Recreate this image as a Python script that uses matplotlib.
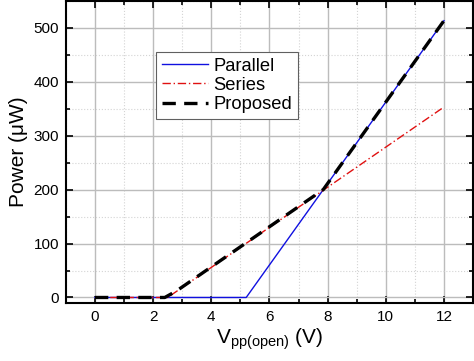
import numpy as np
import matplotlib
matplotlib.use("Agg")
import matplotlib.pyplot as plt
from matplotlib.ticker import MultipleLocator

plt.rcParams["font.family"] = ["Liberation Sans", "DejaVu Sans"]
plt.rcParams["mathtext.fontset"] = "custom"
plt.rcParams["mathtext.rm"] = "Liberation Sans"
plt.rcParams["mathtext.it"] = "Liberation Sans"

# Data
parallel_v = [0, 5.2, 12]
parallel_p = [0, 0, 513]
series_v = [0, 2.5, 12]
series_p = [0, 0, 353]
proposed_v = [0, 2.4, 2.8, 7.85, 12]
proposed_p = [0, 0, 12, 200, 513]

fig = plt.figure(figsize=(4.74, 3.61), dpi=100)
ax = fig.add_axes([0.139, 0.161, 0.859, 0.837])

ax.plot(parallel_v, parallel_p, color="#1010e0", lw=1.0, label="Parallel", zorder=3)
ax.plot(series_v, series_p, color="#e01010", lw=1.0, ls=(0, (6, 2, 1, 2)), label="Series", zorder=4)
ax.plot(proposed_v, proposed_p, color="black", lw=2.4, ls=(0, (4, 2.5)), label="Proposed", zorder=5)

ax.set_xlim(-1, 13)
ax.set_ylim(-10, 550)
ax.xaxis.set_major_locator(MultipleLocator(2))
ax.xaxis.set_minor_locator(MultipleLocator(1))
ax.yaxis.set_major_locator(MultipleLocator(100))
ax.yaxis.set_minor_locator(MultipleLocator(50))

ax.grid(which="major", color="#bcbcbc", lw=1.0, ls="-")
ax.grid(which="minor", color="#d4d4d4", lw=0.8, ls=":")
ax.set_axisbelow(True)

for s in ax.spines.values():
    s.set_linewidth(1.5)
ax.tick_params(which="both", direction="in", top=True, right=True, width=1.2)
ax.tick_params(which="major", length=5, labelsize=11, pad=5)
ax.tick_params(which="minor", length=3)

ax.set_xlabel(r"V$_{\mathrm{pp(open)}}$ (V)", fontsize=15, labelpad=2)
ax.set_ylabel("Power (\u03bcW)", fontsize=15, labelpad=4)

leg = ax.legend(loc="upper left", bbox_to_anchor=(0.2, 0.86), fontsize=13.2,
                handlelength=2.5, handletextpad=0.3, labelspacing=0.12,
                borderpad=0.3, fancybox=False, framealpha=1, edgecolor="#606060")
leg.get_frame().set_linewidth(0.8)

fig.savefig("out.png", dpi=100)
